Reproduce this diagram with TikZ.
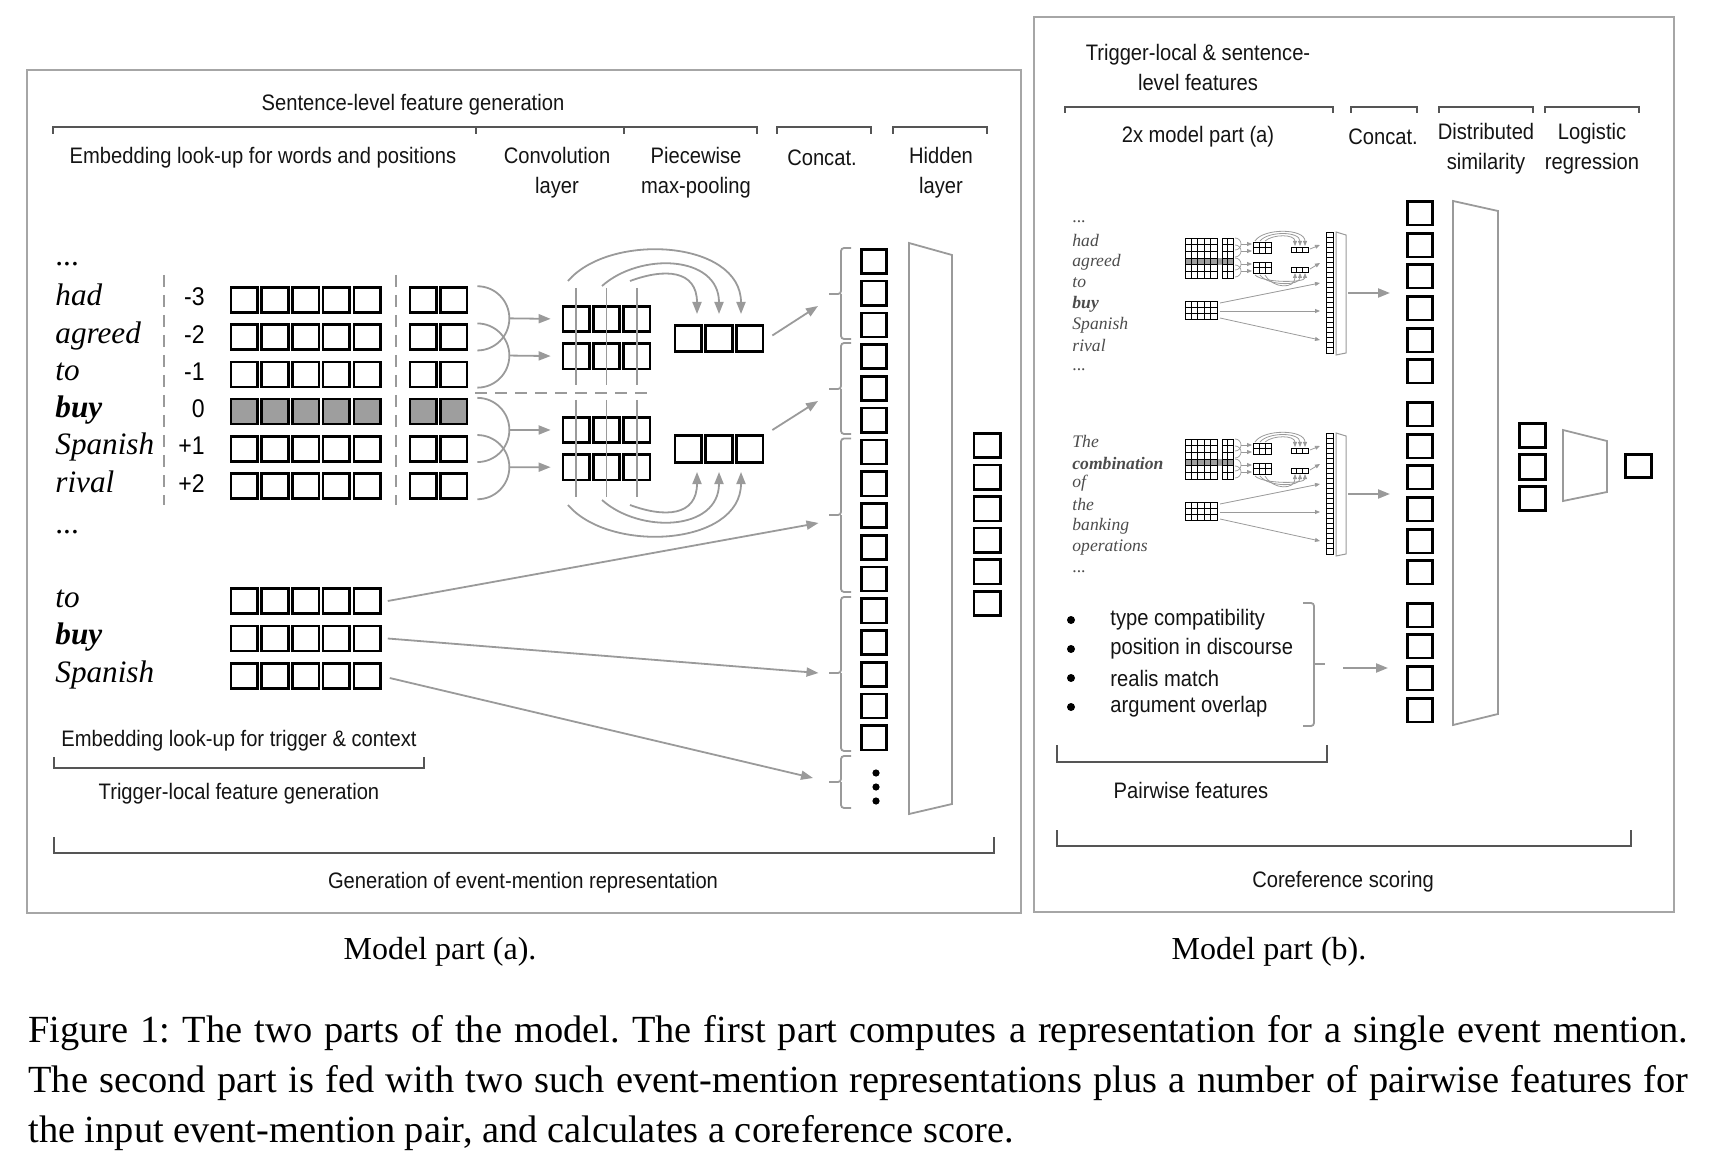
\documentclass[tikz,border=0pt]{standalone}
\usepackage{fontspec}
\setmainfont{Liberation Serif}
\newfontfamily\lblfont[FakeStretch=0.9]{Liberation Sans}
\usetikzlibrary{positioning,arrows.meta,calc}
\definecolor{framegray}{HTML}{A6A6A6}
\definecolor{linegray}{HTML}{9A9A9A}
\definecolor{brackgray}{HTML}{555555}
\definecolor{cellgray}{HTML}{9E9E9E}
\newcommand{\etc}{{\upshape...}}
\tikzset{
  lbl/.style={font=\lblfont\fontsize{11.2}{15}\selectfont, text=black!92, align=center, inner sep=0pt},
  num/.style={font=\lblfont\fontsize{12.8}{14}\selectfont, anchor=base east, inner sep=0pt},
  word/.style={font=\rmfamily\itshape\fontsize{15.6}{18}\selectfont, anchor=base west, inner sep=0pt},
  miniword/.style={font=\rmfamily\itshape\fontsize{8.8}{10}\selectfont, text=black!70, anchor=west, inner sep=0pt},
  sub/.style={font=\rmfamily\fontsize{16}{18}\selectfont, inner sep=0pt},
  captxt/.style={font=\rmfamily\fontsize{19.2}{22}\selectfont, anchor=base west, inner sep=0pt},
  cell/.style={draw, line width=1.3pt, minimum width=13.3pt, minimum height=12.45pt, inner sep=0pt},
  ccell/.style={cell, minimum width=12.7pt, minimum height=12.05pt},
  conn/.style={draw=linegray, line width=0.9pt},
  garrow/.style={conn, -{Triangle[length=6pt,width=4.5pt]}},
  brack/.style={draw=brackgray, line width=0.8pt},
  brace/.style={draw=linegray, line width=0.9pt, rounded corners=1.5pt},
  layer/.style={draw=linegray, line width=0.9pt},
  tiny/.style={draw, line width=0.45pt},
  tinyarrow/.style={draw=linegray, line width=0.4pt, -{Triangle[length=2.5pt,width=2pt]}}
}
\newcommand{\cbrace}[3]{% top, bottom, middle
  \draw[brace] (851,#1) -- (841,#1) -- (841,#3) -- (829,#3);
  \draw[brace] (841,#3) -- (841,#2) -- (851,#2);}
\begin{document}
\frenchspacing
\begin{tikzpicture}[x=0.5pt,y=-0.5pt]
\useasboundingbox (0,0) rectangle (1729,1171);
% frames
\draw[framegray, line width=1pt] (27,70) rectangle (1021,913);
\draw[framegray, line width=1pt] (1034,17) rectangle (1674,912);

% ---------- model part (a)
\node[lbl] (sent) at (413,105) {Sentence-level feature generation};
\draw[brack] (53,134) -- (53,127) -- (757,127) -- (757,134);
\draw[brack] (476,127) -- (476,134) (624,127) -- (624,134);
\draw[brack] (777,134) -- (777,127) -- (871,127) -- (871,134);
\draw[brack] (893,134) -- (893,127) -- (987,127) -- (987,134);
\node[lbl] (emb) at (263,158) {Embedding look-up for words and positions};
\node[lbl] (conv) at (557,173) {Convolution\\layer};
\node[lbl] (pool) at (696,173) {Piecewise\\max-pooling};
\node[lbl] (conc) at (822,158) {Concat.};
\node[lbl] (hid) at (941,173) {Hidden\\layer};

% words, positions and embeddings
\node[word] (dots1) at (55,266) {\etc};
\foreach \r/\y/\w/\n/\fc in {0/300/had/-3/white, 1/337.2/agreed/-2/white, 2/374.4/to/-1/white,
    3/411.6/\textbf{buy}/0/cellgray, 4/448.8/Spanish/+1/white, 5/486/rival/+2/white} {
  \node[word] (wd-\r) at (55,\y+6) {\w};
  \node[num] (ps-\r) at (205,\y+6) {\n};
  \foreach \c in {0,...,4} \node[cell, fill=\fc] (w-\r-\c) at ({244.35+30.7*\c},\y) {};
  \foreach \c in {0,1} \node[cell, fill=\fc] (p-\r-\c) at ({423.25+30.5*\c},\y) {};
}
\node[word] (dots2) at (55,533) {\etc};
\draw[linegray, line width=0.9pt, dash pattern=on 6pt off 4pt] (164,275) -- (164,505);
\draw[linegray, line width=0.9pt, dash pattern=on 6pt off 4pt] (396,275) -- (396,505);
\draw[linegray, line width=0.9pt, dash pattern=on 6pt off 4pt] (475,393) -- (652,393);

% convolution windows
\foreach \k/\a/\b in {0/0/1, 1/1/2, 2/3/4, 3/4/5} {
  \draw[conn] (p-\a-1.north east) ++(9,0) coordinate (ws-\k)
    arc[start angle=-90, end angle=90, x radius=32, y radius={(37.2*(\b-\a)+27)/2}] coordinate (we-\k);
  \coordinate (wa-\k) at ($(ws-\k)!0.5!(we-\k)+(32,0)$);
}
% convolution layer
\foreach \g/\y in {u/319, l/430} {
  \foreach \r in {0,1} \foreach \c in {0,1,2}
    \node[cell, minimum width=13.2pt, minimum height=12.7pt] (c\g-\r-\c) at ({576.15+30.3*\c},{\y+37.2*\r}) {};
}
\foreach \c in {0,1,2} {
  \draw[conn] (cu-0-\c.north) ++(0,-17) -- (cu-1-\c.south) -- ++(0,15);
  \draw[conn] (cl-0-\c.north) ++(0,-16) -- (cl-1-\c.south) -- ++(0,16);
}
\draw[garrow, shorten >=5.5pt] (wa-0) -- (cu-0-0.west);
\draw[garrow, shorten >=5.5pt] (wa-1) -- (cu-1-0.west);
\draw[garrow, shorten >=5.5pt] (wa-2) -- (cl-0-0.west);
\draw[garrow, shorten >=5.5pt] (wa-3) -- (cl-1-0.west);

% max-pooling
\foreach \c in {0,1,2} {
  \node[cell, minimum height=13.2pt] (pu-\c) at ({688.35+30.7*\c},338.5) {};
  \node[cell, minimum height=13.2pt] (pl-\c) at ({688.35+30.7*\c},449) {};
}
\draw[garrow] (568,281) .. controls (610,232) and (741,240) .. (741,314);
\draw[garrow] (602,286) .. controls (640,252) and (719,255) .. (719,314);
\draw[garrow] (630,281) .. controls (665,268) and (697,270) .. (697,314);
\draw[garrow] (568,505) .. controls (610,554) and (741,546) .. (741,472);
\draw[garrow] (602,500) .. controls (640,534) and (719,531) .. (719,472);
\draw[garrow] (630,505) .. controls (665,518) and (697,516) .. (697,472);

% concatenation
\foreach \k in {0,...,15} \node[ccell] (cc-\k) at (874,{261.5+31.75*\k}) {};
\cbrace{248}{339}{294}
\cbrace{343}{434}{389}
\cbrace{438.5}{592}{515}
\cbrace{597}{751}{673}
\cbrace{756}{808}{782}
\foreach \y in {773,787,801} \fill (876,\y) circle (3.6);
\coordinate (in-0) at (818,306);
\coordinate (in-1) at (818,401);
\coordinate (in-2) at (818.5,523);
\coordinate (in-3) at (818.5,673);
\coordinate (in-4) at (813,778);
\draw[garrow] (pu-2.east) ++(8,-3) -- (in-0);
\draw[garrow] (pl-2.east) ++(8,-19) -- (in-1);

% hidden layer
\draw[layer] (909,243) -- (952,255) -- (952,804) -- (909,814) -- cycle;
\foreach \k in {0,...,5} \node[cell, minimum width=13.2pt, minimum height=12.2pt] (h-\k) at (987,{445.5+31.6*\k}) {};

% trigger-local features
\foreach \r/\y/\w in {0/601/to, 1/638.5/\textbf{buy}, 2/676/Spanish} {
  \node[word] (tw-\r) at (55,\y+6) {\w};
  \foreach \c in {0,...,4} \node[cell] (tr-\r-\c) at ({244.35+30.7*\c},\y) {};
}
\draw[garrow] (tr-0-4.east) ++(6,0) -- (in-2);
\draw[garrow] (tr-1-4.east) ++(6,0) -- (in-3);
\draw[garrow] (tr-2-4.east) ++(8,2) -- (in-4);
\node[lbl] (embt) at (239,741) {Embedding look-up for trigger \& context};
\draw[brack] (54,757) -- (54,768) -- (424,768) -- (424,757);
\node[lbl] (trig) at (239,794) {Trigger-local feature generation};
\draw[brack] (54,837) -- (54,853) -- (994,853) -- (994,837);
\node[lbl] (gen) at (523,883) {Generation of event-mention representation};

% ---------- model part (b)
\node[lbl] (tls) at (1198,67.5) {Trigger-local \& sentence-\\level features};
\draw[brack] (1065,113) -- (1065,107) -- (1333,107) -- (1333,113);
\draw[brack] (1351,113) -- (1351,107) -- (1417,107) -- (1417,113);
\draw[brack] (1439,113) -- (1439,107) -- (1533,107) -- (1533,113);
\draw[brack] (1545,113) -- (1545,107) -- (1639,107) -- (1639,113);
\node[lbl] (twox) at (1198,137) {2x model part (a)};
\node[lbl] (concb) at (1383,137) {Concat.};
\node[lbl] (dist) at (1486,149) {Distributed\\similarity};
\node[lbl] (logr) at (1592,149) {Logistic\\regression};

% two small copies of part (a)
\foreach \off in {0,201} {
\begin{scope}[shift={(0,\off)}]
  \fill[cellgray] (1185,258) rectangle (1233.2,264.7);
  \foreach \r in {0,...,5} {
    \foreach \c in {0,...,4} \draw[tiny] ({1185+6.4*\c},{238+6.67*\r}) rectangle +(6.4,6.67);
    \foreach \c in {0,1} \draw[tiny] ({1222+5.6*\c},{238+6.67*\r}) rectangle +(5.6,6.67);
  }
  \foreach \a in {238,245,258,265} {
    \draw[linegray, line width=0.35pt] (1235,\a) arc[start angle=-90, end angle=90, radius=6];
    \draw[tinyarrow] (1241,\a+6) -- (1252,\a+6);
  }
  \foreach \gy in {242,262} \foreach \r in {0,1} \foreach \c in {0,1,2}
    \draw[tiny] ({1253+6*\c},{\gy+5.5*\r}) rectangle +(6,5.5);
  \foreach \gy in {247,267} \foreach \c in {0,1,2}
    \draw[tiny] ({1291+5.7*\c},\gy) rectangle +(5.7,5);
  \foreach \s/\e/\h in {1255/1305/228, 1260/1300/231, 1265/1295/234} {
    \draw[tinyarrow] (\s,241) .. controls (\s+8,\h) and (\e,\h) .. (\e,246);
    \draw[tinyarrow] (\s,275) .. controls (\s+8,\h+55) and (\e,\h+55) .. (\e,273);
  }
  \foreach \r in {0,1,2} \foreach \c in {0,...,4}
    \draw[tiny] ({1185+6.4*\c},{301+6*\r}) rectangle +(6.4,6);
  \foreach \k in {0,...,23} \draw[tiny] (1326,{232+5.04*\k}) rectangle +(7,5.04);
  \draw[layer, line width=0.5pt] (1336,232) -- (1346,235) -- (1346,353) -- (1336,355) -- cycle;
  \draw[tinyarrow] (1220,303) -- (1320,283);
  \draw[tinyarrow] (1220,311) -- (1320,311);
  \draw[tinyarrow] (1220,318) -- (1320,340);
  \draw[tinyarrow] (1310,249) -- (1320,245);
  \draw[tinyarrow] (1310,269) -- (1320,263);
  \draw[garrow, line width=1.1pt] (1348,293) -- (1390,293);
\end{scope}
}
\foreach \y/\w in {222/\etc, 240/had, 262/agreed, 283/to, 304/\textbf{buy}, 325/Spanish, 345/rival, 370/\etc}
  \node[miniword] at (1072,\y) {\w};
\foreach \y/\w in {441/The, 463/\textbf{combination}, 483/of, 504/the, 526/banking, 548/operations, 572/\etc}
  \node[miniword] at (1072,\y) {\w};

% concatenation and scoring
\foreach \k/\y in {0/200,1/232,2/263,3/295,4/327,5/358,6/401,7/433,8/464,9/496,10/528,11/559,12/602,13/633,14/665,15/697}
  \node[ccell, minimum height=11.95pt] (rc-\k) at (1420,\y+13.2) {};
\draw[layer] (1453,201) -- (1498,211) -- (1498,714) -- (1453,725) -- cycle;
\foreach \k in {0,1,2} \node[cell, minimum width=13.2pt, minimum height=12.2pt] (ds-\k) at (1532.5,{435.5+31.5*\k}) {};
\draw[layer] (1563,430) -- (1607,441) -- (1607,492) -- (1563,501) -- cycle;
\node[cell, minimum width=13.2pt, minimum height=11.7pt] (out) at (1638.5,466) {};

% pairwise features
\foreach \y/\t in {620/type compatibility, 649/position in discourse, 678/realis match, 707/argument overlap} {
  \fill (1071,\y) circle (4);
  \node[lbl, anchor=west] at (1110,\y) {\t};
}
\draw[brace] (1303,603) -- (1314,603) -- (1314,726) -- (1303,726);
\draw[brace] (1314,664) -- (1325,664);
\coordinate (pw) at (1343,668);
\coordinate (pwe) at (1388,668);
\draw[garrow, line width=1.1pt] (pw) -- (pwe);
\draw[brack] (1057,745) -- (1057,762) -- (1327,762) -- (1327,745);
\node[lbl] (pair) at (1191,790) {Pairwise features};
\draw[brack] (1057,830) -- (1057,846) -- (1631,846) -- (1631,830);
\node[lbl] (coref) at (1343,882) {Coreference scoring};

% captions
\node[sub] (suba) at (440,952) {Model part (a).};
\node[sub] (subb) at (1269,952) {Model part (b).};
\node[captxt] (cap1) at (28,1042) {\makebox[830pt][s]{Figure 1: The two parts of the model. The first part computes a representation for a single event mention.}};
\node[captxt] (cap2) at (28,1092) {\makebox[830pt][s]{The second part is fed with two such event-mention representations plus a number of pairwise features for}};
\node[captxt] (cap3) at (28,1142) {the input event-mention pair, and calculates a coreference score.};
\end{tikzpicture}
\end{document}
